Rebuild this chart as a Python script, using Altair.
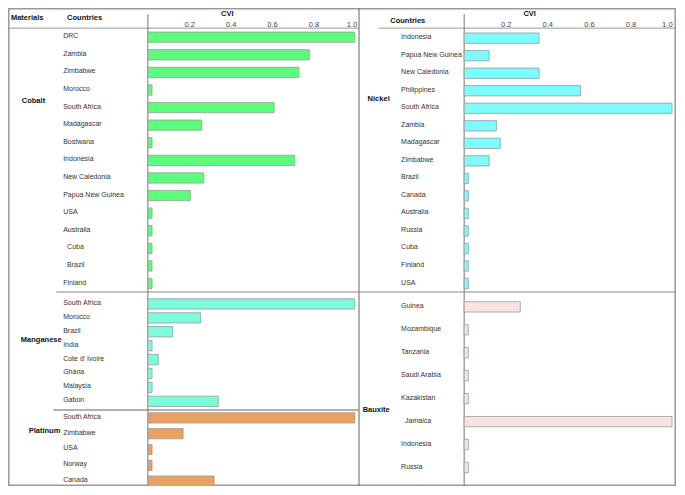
import altair as alt
import pandas as pd

FONT = "Liberation Sans"

materials = ["Cobalt", "Manganese", "Platinum", "Nickel", "Bauxite"]
header_labels = ["Materials", "Countries", "CVI"]
tick_values = [0.2, 0.4, 0.6, 0.8, 1.0]

cobalt_countries = ["DRC", "Zambia", "Zimbabwe", "Morocco", "South Africa", "Madagascar",
                    "Bostwana", "Indonesia", "New Caledonia", "Papua New Guinea", "USA",
                    "Australia", "Cuba", "Brazil", "Finland"]
cobalt_cvi = [1.0, 0.78, 0.73, 0.02, 0.61, 0.26, 0.02, 0.71, 0.27, 0.205, 0.02, 0.02, 0.02, 0.02, 0.02]
cobalt_indent = [0, 0, 0, 0, 0, 0, 0, 0, 0, 0, 0, 0, 1, 1, 0]

manganese_countries = ["South Africa", "Morocco", "Brazil", "India", "Cote d' Ivoire",
                       "Ghana", "Malaysia", "Gabon"]
manganese_cvi = [1.0, 0.255, 0.12, 0.02, 0.05, 0.02, 0.02, 0.34]
manganese_indent = [0] * 8

platinum_countries = ["South Africa", "Zimbabwe", "USA", "Norway", "Canada"]
platinum_cvi = [1.0, 0.17, 0.02, 0.02, 0.32]
platinum_indent = [0] * 5

nickel_countries = ["Indonesia", "Papua New Guinea", "New Caledonia", "Philippines",
                    "South Africa", "Zambia", "Madagascar", "Zimbabwe", "Brazil", "Canada",
                    "Australia", "Russia", "Cuba", "Finland", "USA"]
nickel_cvi = [0.36, 0.12, 0.36, 0.56, 1.0, 0.155, 0.174, 0.12, 0.02, 0.02, 0.02, 0.02, 0.02, 0.02, 0.02]
nickel_indent = [0] * 15

bauxite_countries = ["Guinea", "Mozambique", "Tanzania", "Saudi Arabia", "Kazakistan",
                     "Jamaica", "Indonesia", "Russia"]
bauxite_cvi = [0.27, 0.02, 0.02, 0.02, 0.02, 1.0, 0.02, 0.02]
bauxite_indent = [0, 0, 0, 0, 0, 1, 0, 0]

colors = {"Cobalt": "#5CFC7C", "Manganese": "#7CFCDA", "Platinum": "#E9A163",
          "Nickel": "#7CFCFC", "Bauxite": "#F8E2E2"}

# ---- layout (reference-picture geometry mapped onto the drawing area) ----
W, H = 668, 478
SX = W / 678.0
SY = H / 491.0
PAD_L, PAD_T = 140, 20


def rx(x):
    return (x - 2) * SX - PAD_L


def ry(y):
    return (y - 2) * SY - PAD_T


PLOT_W = W - PAD_L
PLOT_H = H - PAD_T
BAR_PX = 10.3

LEFT_X = [rx(144), rx(354)]
RIGHT_X = [rx(465), rx(676)]


def band(first_center, last_center, n):
    step = (last_center - first_center) / (n - 1)
    r = [ry(first_center - step / 2), ry(last_center + step / 2)]
    pi = 1 - BAR_PX / (step * SY)
    return r, pi


def top_axis(title_x, title_y, flush_offset):
    return alt.Axis(orient="top", values=tick_values, format=".1f", domain=False,
                    ticks=False, grid=False, labelPadding=2, labelFlush=1,
                    labelFlushOffset=flush_offset,
                    labelBaseline="alphabetic", labelFont=FONT, labelFontSize=7.5,
                    labelColor="#444", title=header_labels[2], titleFont=FONT,
                    titleFontSize=7.5, titleFontWeight="bold", titleColor="#111",
                    titleX=title_x, titleY=title_y, titleBaseline="middle",
                    titleAlign="center", titleAngle=0)


def section(name, countries, cvi, indent, x_range, centers, label_x, title_pos,
            axis_title=None, flush_offset=0):
    df = pd.DataFrame({"country": countries, "cvi": cvi, "indent": indent})
    base = alt.Chart(df)
    y_range, pi = band(centers[0], centers[1], len(countries))
    xenc = alt.X("cvi:Q",
                 scale=alt.Scale(domain=[0, 1], range=x_range, nice=False, zero=True),
                 axis=top_axis(axis_title[0], axis_title[1], flush_offset)
                 if axis_title is not None else None)
    yenc = alt.Y("country:N", sort=None,
                 scale=alt.Scale(range=y_range, paddingInner=pi, paddingOuter=pi / 2),
                 axis=None)
    bars = base.mark_bar(color=colors[name], stroke="#9a9a9a", strokeWidth=0.8).encode(
        x=xenc, y=yenc)
    lab_kw = dict(align="left", baseline="middle", font=FONT, fontSize=7, color="#333", dy=-1)
    labels = base.transform_filter("datum.indent == 0").mark_text(**lab_kw).encode(
        x=alt.value(rx(label_x)), y=yenc, text="country:N")
    labels_in = base.transform_filter("datum.indent == 1").mark_text(**lab_kw).encode(
        x=alt.value(rx(label_x + 4)), y=yenc, text="country:N")
    tdf = pd.DataFrame({"material": [name]})
    title = alt.Chart(tdf).mark_text(align="left", baseline="middle", font=FONT,
                                     fontSize=7.5, fontWeight="bold", color="#111").encode(
        x=alt.value(rx(title_pos[0])), y=alt.value(ry(title_pos[1])), text="material:N")
    return alt.layer(bars, labels, labels_in, title)


cobalt = section("Cobalt", cobalt_countries, cobalt_cvi, cobalt_indent, LEFT_X, (32, 285),
                 58, (16, 98), axis_title=(rx(224), ry(7.5)), flush_offset=2)
manganese = section("Manganese", manganese_countries, manganese_cvi, manganese_indent, LEFT_X,
                    (306, 406), 58, (15, 343))
platinum = section("Platinum", platinum_countries, platinum_cvi, platinum_indent, LEFT_X,
                   (423, 488), 58, (23, 436))
nickel = section("Nickel", nickel_countries, nickel_cvi, nickel_indent, RIGHT_X, (33, 285),
                 401, (367, 95), axis_title=(rx(531), ry(7.5)), flush_offset=0)
bauxite = section("Bauxite", bauxite_countries, bauxite_cvi, bauxite_indent, RIGHT_X,
                  (309, 474), 401, (362, 415))

one = alt.Chart(pd.DataFrame({"k": [0]}))


def hrule(x1, x2, y, color="#888", w=1.0):
    return one.mark_rule(color=color, strokeWidth=w).encode(
        x=alt.value(rx(x1)), x2=alt.value(rx(x2)), y=alt.value(ry(y)))


def vrule(x, y1, y2, color="#777", w=1.0):
    return one.mark_rule(color=color, strokeWidth=w).encode(
        x=alt.value(rx(x)), y=alt.value(ry(y1)), y2=alt.value(ry(y2)))


border = one.mark_rect(filled=False, stroke="#999", strokeWidth=1.5).encode(
    x=alt.value(-PAD_L + 0.8), x2=alt.value(PLOT_W - 0.8),
    y=alt.value(-PAD_T + 0.8), y2=alt.value(PLOT_H - 0.8))

decor = [
    border,
    vrule(358.3, 2, 493, "#666"),
    hrule(2, 358.3, 22.7, "#999"),
    hrule(378, 680, 22.7, "#999"),
    hrule(51, 680, 293.7, "#888"),
    hrule(48, 358.3, 415, "#999", 1.5),
    vrule(144, 8.3, 493, "#777"),
    vrule(465, 8.3, 493, "#777"),
]


def header(text, x, y):
    return alt.Chart(pd.DataFrame({"h": [text]})).mark_text(
        align="left", baseline="middle", font=FONT, fontSize=7.5, fontWeight="bold",
        color="#111").encode(x=alt.value(rx(x)), y=alt.value(ry(y)), text="h:N")


headers = [header(header_labels[0], 5, 12.3), header(header_labels[1], 62, 12.3),
           header(header_labels[1], 390, 15.7)]

chart = alt.layer(
    *decor, cobalt, manganese, platinum, nickel, bauxite, *headers
).resolve_scale(x="independent", y="independent").properties(
    width=PLOT_W, height=PLOT_H,
    autosize=alt.AutoSizeParams(type="none"),
    padding={"left": PAD_L, "top": PAD_T, "right": 0, "bottom": 0}
).configure_view(strokeWidth=0)

chart.save("out.html", embed_options={"renderer": "svg", "actions": False})
